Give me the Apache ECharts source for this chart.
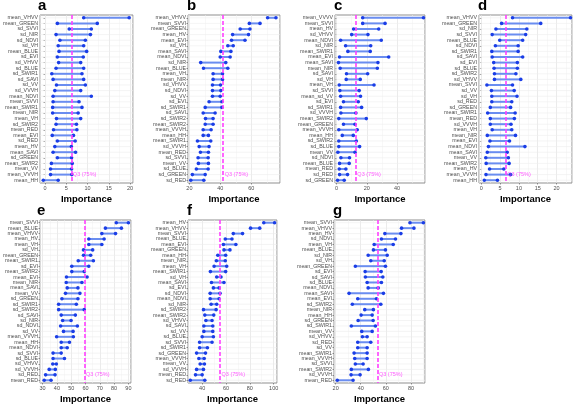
<!DOCTYPE html>
<html><head><meta charset="utf-8">
<script src="https://cdn.jsdelivr.net/npm/echarts@6/dist/echarts.min.js"></script>
<style>html,body{margin:0;padding:0;background:#fff}#c{width:575px;height:405px}</style>
</head><body><div id="c"></div>
<script>
// ---- data (top to bottom as displayed) ----
const catsA = ["mean_VHVV","mean_GREEN","sd_SVVI","sd_NIR","sd_NDVI","sd_VH","mean_BLUE","sd_EVI","sd_VHVV","sd_BLUE","sd_SWIR1","sd_SAVI","sd_VV","sd_VVVH","mean_NDVI","mean_SVVI","mean_SWIR1","mean_NIR","mean_VH","sd_SWIR2","mean_RED","mean_EVI","sd_RED","mean_HV","mean_SAVI","sd_GREEN","mean_SWIR2","mean_VV","mean_VVVH","mean_HH"];
const minA = [9.1,2.9,5.7,2.6,3.5,3.1,3.3,2.9,3.2,2.6,1.6,1.9,2.7,2.3,1.9,1.9,1.8,1.8,2.7,2.6,2.0,1.7,2.9,2.3,1.9,2.9,1.5,1.3,1.3,-0.4];
const maxA = [19.8,12.3,10.9,10.7,9.5,9.1,9.8,9.0,8.4,9.1,8.7,9.1,9.5,8.4,10.9,8.0,8.7,7.8,8.4,7.4,7.5,6.7,7.1,6.2,7.2,6.25,6.4,6.25,6.3,3.1];
const q3A = 6.2;

const catsB = ["mean_VHVV","mean_SVVI","mean_GREEN","mean_HV","mean_EVI","sd_VH","mean_SAVI","mean_NDVI","sd_NIR","mean_BLUE","mean_VH","mean_NIR","sd_VHVV","sd_NDVI","sd_VV","sd_EVI","sd_SWIR1","sd_SAVI","sd_SWIR2","mean_SWIR2","mean_VVVH","mean_HH","mean_SWIR1","sd_VVVH","mean_RED","sd_SVVI","mean_VV","sd_BLUE","sd_GREEN","sd_RED"];
const minB = [70.5,58.7,52.8,47.9,47.2,44.8,40.3,39.9,27.3,29.1,35.3,35.3,34.9,34.9,34.9,32.7,30.2,28.9,30.4,30.2,28.9,28.9,25.2,26.3,27.1,25.6,25.8,24.5,21.9,20.9];
const maxB = [75.9,65.6,59.1,58.2,55.9,48.3,46.8,46.3,43.5,44.8,41.4,41.4,40.1,40.3,39.9,41.0,41.0,36.6,35.3,35.3,34.0,32.3,33.8,32.7,32.3,32.1,32.3,32.1,30.2,29.3];
const q3B = 41.8;

const catsC = ["mean_VVVV","mean_SVVI","mean_HV","sd_VHVV","mean_NDVI","sd_NIR","mean_SWIR1","mean_EVI","mean_SAVI","mean_NIR","sd_SAVI","sd_VH","mean_VH","sd_SVVI","mean_sd_VV","sd_EVI","sd_SWIR1","sd_VVVH","mean_SWIR2","mean_GREEN","mean_VVVH","mean_HH","sd_SWIR2","sd_BLUE","mean_VV","sd_NDVI","mean_BLUE","mean_RED","sd_RED","sd_GREEN"];
const minC = [17.3,17.3,11.3,10.0,2.7,6.0,7.5,2.0,1.3,2.4,6.6,6.4,1.8,2.2,2.7,4.6,2.7,2.9,1.5,4.6,1.5,3.8,1.5,1.5,0.9,2.9,2.0,1.8,2.0,0.7];
const maxC = [57.5,32.1,27.9,20.8,29.6,22.6,22.3,34.5,27.4,27.0,20.6,15.7,24.8,15.0,15.9,14.4,16.6,12.8,19.7,12.2,13.7,11.1,13.1,15.3,12.2,8.6,8.4,6.2,7.3,5.1];
const q3C = 12.8;

const catsD = ["mean_VHVV","mean_GREEN","sd_NIR","sd_SVVI","mean_BLUE","sd_NDVI","sd_SWIR1","sd_SAVI","sd_EVI","sd_BLUE","sd_SWIR2","sd_VHVV","mean_SVVI","sd_VV","sd_VH","sd_RED","sd_GREEN","mean_SWIR1","mean_RED","sd_VVVH","mean_VH","mean_NIR","mean_EVI","mean_NDVI","mean_SAVI","mean_VV","mean_SWIR2","mean_HV","mean_VVVH","mean_HH"];
const minD = [8.3,5.4,3.9,2.9,4.9,3.75,2.8,2.9,3.3,3.4,3.5,3.5,1.5,2.7,2.8,2.8,2.4,1.7,2.4,2.4,2.9,1.6,2.3,1.9,1.6,1.2,1.3,2.2,1.25,0.8];
const maxD = [23.7,15.8,12.1,11.8,11.0,9.8,9.8,11.0,9.6,9.6,9.2,10.5,8.3,8.75,9.5,8.1,7.8,9.0,8.8,7.9,8.1,9.1,7.5,11.6,6.9,7.2,7.4,6.0,7.8,4.3];
const q3D = 6.5;

const catsE = ["mean_SVVI","mean_BLUE","mean_VHVV","mean_HV","mean_VH","sd_VH","mean_GREEN","mean_SWIR1","sd_EVI","mean_SWIR2","mean_EVI","mean_NIR","mean_SAVI","mean_VV","sd_GREEN","sd_SWIR1","sd_SWIR2","sd_SAVI","sd_NIR","sd_NDVI","sd_VV","mean_VVVH","mean_HH","mean_NDVI","sd_SVVI","sd_BLUE","sd_VHVV","sd_VVVH","sd_RED","mean_RED"];
const minE = [81.5,73.9,71.4,62.3,62.3,58.6,58.6,54.9,50.4,50.4,46.7,46.5,47.2,46.0,43.5,41.2,41.2,43.0,44.0,42.6,44.6,39.8,43.0,43.0,37.3,37.3,37.1,34.6,32.1,31.1];
const maxE = [90.0,85.1,81.0,73.0,71.4,65.0,63.6,65.5,62.3,59.1,61.1,57.5,54.7,56.1,54.7,53.6,59.1,52.9,49.9,54.3,51.3,51.5,48.8,47.2,43.0,45.3,39.6,38.9,38.7,35.9];
const q3E = 59.3;

const catsF = ["mean_HV","mean_VHVV","mean_SVVI","mean_BLUE","mean_EVI","mean_GREEN","mean_HH","mean_NIR","mean_VH","mean_SWIR1","sd_VH","mean_SAVI","sd_EVI","sd_NDVI","mean_NDVI","sd_NIR","sd_SWIR2","mean_SWIR2","sd_VHVV","sd_SAVI","sd_VV","sd_BLUE","sd_SVVI","sd_SWIR1","sd_GREEN","mean_VVVH","mean_VV","sd_VVVH","mean_RED","sd_RED"];
const minF = [91.7,80.6,66.1,59.4,57.8,58.3,53.1,51.9,50.0,46.9,52.2,47.8,49.4,46.7,46.7,47.5,41.1,42.2,43.1,41.4,41.4,40.0,37.8,37.8,35.3,37.2,38.3,35.3,34.4,30.0];
const maxF = [100.8,88.3,73.9,65.0,68.3,63.3,59.7,59.4,60.6,59.7,55.8,58.3,54.2,55.0,54.2,52.2,51.7,49.7,48.3,48.9,48.9,49.4,48.3,44.4,42.8,41.7,41.9,41.1,40.0,42.2];
const q3F = 55.0;

const catsG = ["mean_SVVI","mean_VHVV","mean_HV","sd_NDVI","mean_VH","mean_BLUE","sd_NIR","sd_VH","mean_GREEN","sd_EVI","sd_SAVI","sd_BLUE","mean_NDVI","mean_SAVI","mean_EVI","sd_SWIR2","mean_NIR","mean_HH","sd_GREEN","sd_SWIR1","mean_VV","sd_VHVV","sd_RED","sd_VV","mean_SWIR1","mean_VVVH","sd_SVVI","mean_SWIR2","sd_VVVH","mean_RED"];
const minG = [79.2,72.5,59.2,56.5,50.7,50.1,45.9,48.0,35.7,43.5,43.7,45.1,45.9,30.7,37.6,33.3,43.2,40.3,37.9,32.5,40.8,41.3,37.6,37.6,34.7,35.2,35.7,32.5,32.3,21.3];
const maxG = [89.9,82.4,72.0,67.7,65.9,59.7,61.1,58.7,59.7,56.3,57.6,56.5,53.9,58.1,52.5,56.0,50.1,49.1,49.9,51.7,49.1,45.1,48.0,45.1,45.1,45.1,41.9,46.1,39.5,33.9];
const q3G = 53.3;

const panelLetters = ["a","b","c","d","e","f","g"];
const xAxisName = "Importance";
const q3Text = "Q3 (75%)";

// ---- layout (pixels) ----
const panels = [
  {cats:catsA, mins:minA, maxs:maxA, q3:q3A, box:[39,15,94,168],  xmin:-1.17, xmax:20.7, split:5},
  {cats:catsB, mins:minB, maxs:maxB, q3:q3B, box:[188,15,92,168], xmin:19.1, xmax:78.5, split:3},
  {cats:catsC, mins:minC, maxs:maxC, q3:q3C, box:[335,15,90,168], xmin:-1.0, xmax:58.5, split:3},
  {cats:catsD, mins:minD, maxs:maxD, q3:q3D, box:[479,15,93,168], xmin:-0.6, xmax:24.1, split:5},
  {cats:catsE, mins:minE, maxs:maxE, q3:q3E, box:[38,220,93,167], xmin:28.2, xmax:91.8, split:6},
  {cats:catsF, mins:minF, maxs:maxF, q3:q3F, box:[188,220,89,167], xmin:28.1, xmax:102.8, split:4},
  {cats:catsG, mins:minG, maxs:maxG, q3:q3G, box:[334,220,91,167], xmin:18.7, xmax:91.2, split:4}
];

const FONT = "Liberation Sans, Arial, sans-serif";
const grids=[], xAxes=[], yAxes=[], series=[], titles=[];
panels.forEach((p,i)=>{
  const [l,t,w,h] = p.box;
  grids.push({left:l, top:t, width:w, height:h, show:true, borderColor:'#8f8f8f', borderWidth:1, backgroundColor:'#fff'});
  titles.push({text:panelLetters[i], left:l-1, top:t-17, padding:0,
    textStyle:{fontFamily:FONT, fontSize:15, fontWeight:'bold', color:'#000'}});
  xAxes.push({type:'value', gridIndex:i, min:p.xmin, max:p.xmax, splitNumber:p.split,
    name:xAxisName, nameLocation:'middle', nameGap:11,
    nameTextStyle:{fontFamily:FONT, fontSize:9.5, fontWeight:'bold', color:'#000'},
    axisLine:{show:false},
    axisTick:{show:true, length:1.5, lineStyle:{color:'#555', width:0.6}},
    axisLabel:{fontFamily:FONT, fontSize:5.5, color:'#4d4d4d', margin:2.5, showMinLabel:false, showMaxLabel:false},
    splitLine:{show:true, lineStyle:{color:'#e3e3e3', width:0.7}},
    minorTick:{show:false, splitNumber:2},
    minorSplitLine:{show:true, lineStyle:{color:'#f1f1f1', width:0.5}}
  });
  yAxes.push({type:'category', gridIndex:i, data:p.cats, inverse:true,
    axisLine:{show:false},
    axisTick:{show:true, alignWithLabel:true, length:1.5, lineStyle:{color:'#555', width:0.6}},
    axisLabel:{fontFamily:FONT, fontSize:5.3, color:'#4d4d4d', margin:2, interval:0},
    splitLine:{show:false}
  });
  series.push({
    type:'custom', xAxisIndex:i, yAxisIndex:i,
    data:p.cats.map((c,k)=>[k, p.mins[k], p.maxs[k]]),
    encode:{y:0, x:[1,2]},
    renderItem:(params, api)=>{
      const cs = params.coordSys;
      const a = api.coord([api.value(1), api.value(0)]);
      const b = api.coord([api.value(2), api.value(0)]);
      return {type:'group', children:[
        {type:'line', shape:{x1:cs.x, y1:a[1], x2:cs.x+cs.width, y2:a[1]}, style:{stroke:'#ececec', lineWidth:0.6}},
        {type:'line', shape:{x1:a[0], y1:a[1], x2:b[0], y2:b[1]}, style:{stroke:'#6a8df0', lineWidth:2}},
        {type:'circle', shape:{cx:a[0], cy:a[1], r:1.8}, style:{fill:'#1a3de6'}},
        {type:'circle', shape:{cx:b[0], cy:b[1], r:1.8}, style:{fill:'#1a3de6'}}
      ]};
    }
  });
  series.push({
    type:'scatter', xAxisIndex:i, yAxisIndex:i, symbolSize:0, silent:true,
    data:[[p.q3, p.cats.length-2]],
    label:{show:true, position:'right', distance:1.5, formatter:q3Text, fontFamily:FONT, fontSize:5.5, color:'#ff33ff'},
    markLine:{silent:true, symbol:'none', label:{show:false},
      lineStyle:{type:[4,2], color:'#ff40ff', width:1.6},
      data:[{xAxis:p.q3}]},
    z:5
  });
});

const chart = echarts.init(document.getElementById('c'), null, {renderer:'canvas'});
chart.setOption({animation:false, backgroundColor:'#fff', title:titles, grid:grids, xAxis:xAxes, yAxis:yAxes, series:series});
</script></body></html>
